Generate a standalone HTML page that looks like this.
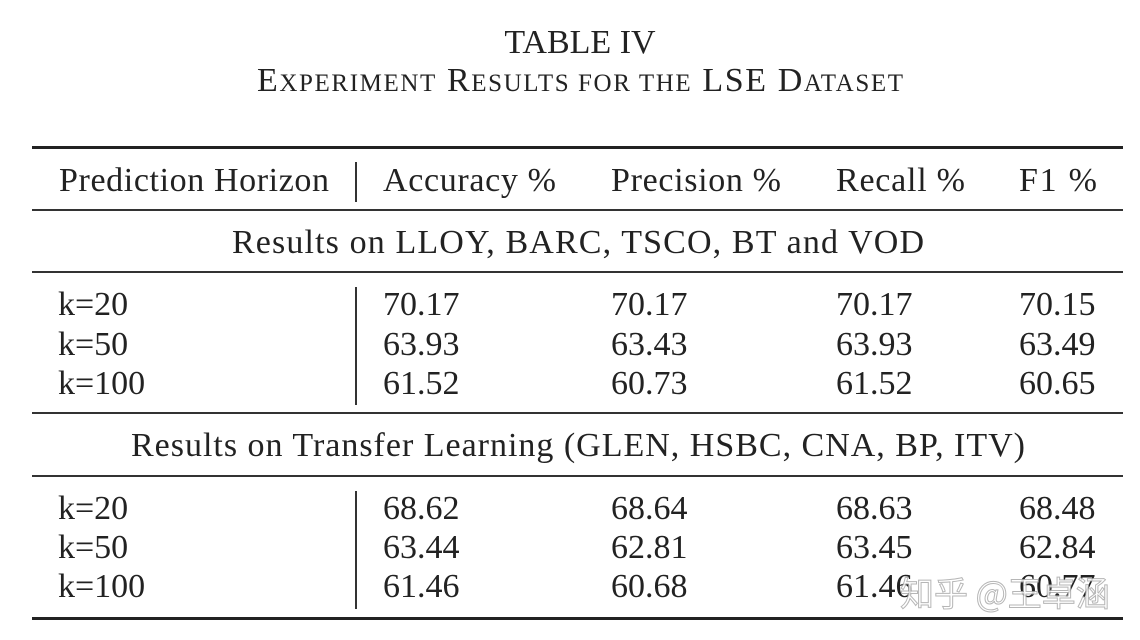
<!DOCTYPE html>
<html><head><style>
html,body{margin:0;padding:0;background:#fff;width:1140px;height:640px;overflow:hidden}
svg{display:block}
text{font-family:"Liberation Serif",serif;fill:#222;font-size:34px}
</style></head><body>
<svg width="1140" height="640" xmlns="http://www.w3.org/2000/svg">
<text x="580" y="53" text-anchor="middle" font-size="33">TABLE IV</text>
<text x="257" y="91" font-size="32" textLength="646" lengthAdjust="spacing">E<tspan font-size="25">XPERIMENT</tspan> R<tspan font-size="25">ESULTS FOR THE</tspan> LSE D<tspan font-size="25">ATASET</tspan></text>
<rect x="32" y="146" width="1091" height="3" fill="#222"/>
<rect x="32" y="209" width="1091" height="2" fill="#333"/>
<rect x="32" y="271" width="1091" height="2" fill="#333"/>
<rect x="32" y="412" width="1091" height="2" fill="#333"/>
<rect x="32" y="475" width="1091" height="2" fill="#333"/>
<rect x="32" y="617" width="1091" height="3" fill="#222"/>
<rect x="355" y="162" width="2" height="40" fill="#333"/>
<rect x="355" y="287" width="2" height="118" fill="#333"/>
<rect x="355" y="491" width="2" height="118" fill="#333"/>
<text x="59" y="191" textLength="270" lengthAdjust="spacing">Prediction Horizon</text>
<text x="383" y="191" textLength="173" lengthAdjust="spacing">Accuracy %</text>
<text x="611" y="191" textLength="170" lengthAdjust="spacing">Precision %</text>
<text x="836" y="191" textLength="129" lengthAdjust="spacing">Recall %</text>
<text x="1019" y="191" textLength="78" lengthAdjust="spacing">F1 %</text>
<text x="232" y="253" textLength="692" lengthAdjust="spacing">Results on LLOY, BARC, TSCO, BT and VOD</text>
<text x="131" y="456" textLength="894" lengthAdjust="spacing">Results on Transfer Learning (GLEN, HSBC, CNA, BP, ITV)</text>
<g>
<text x="58" y="315">k=20</text><text x="383" y="315">70.17</text><text x="611" y="315">70.17</text><text x="836" y="315">70.17</text><text x="1019" y="315">70.15</text>
<text x="58" y="355">k=50</text><text x="383" y="355">63.93</text><text x="611" y="355">63.43</text><text x="836" y="355">63.93</text><text x="1019" y="355">63.49</text>
<text x="58" y="394">k=100</text><text x="383" y="394">61.52</text><text x="611" y="394">60.73</text><text x="836" y="394">61.52</text><text x="1019" y="394">60.65</text>
<text x="58" y="519">k=20</text><text x="383" y="519">68.62</text><text x="611" y="519">68.64</text><text x="836" y="519">68.63</text><text x="1019" y="519">68.48</text>
<text x="58" y="558">k=50</text><text x="383" y="558">63.44</text><text x="611" y="558">62.81</text><text x="836" y="558">63.45</text><text x="1019" y="558">62.84</text>
<text x="58" y="597">k=100</text><text x="383" y="597">61.46</text><text x="611" y="597">60.68</text><text x="836" y="597">61.46</text><text x="1019" y="597">60.77</text>
</g>
<text x="900" y="606" font-size="30" style="font-family:'Noto Sans CJK SC',sans-serif;fill:#fff;stroke:#aaa;stroke-width:1;opacity:0.85">知乎 @王卓涵</text>
</svg>
</body></html>
